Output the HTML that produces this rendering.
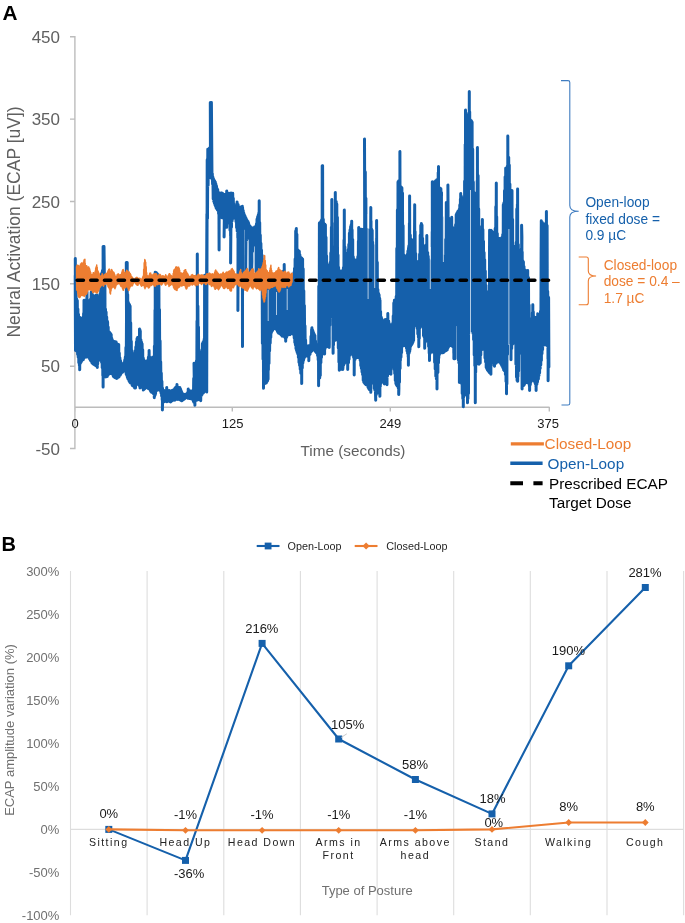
<!DOCTYPE html>
<html lang="en"><head><meta charset="utf-8"><title>Figure</title>
<style>html,body{margin:0;padding:0;background:#fff}svg{display:block}text{font-family:"Liberation Sans",sans-serif}</style></head><body>
<svg width="685" height="923" viewBox="0 0 685 923">
<rect width="685" height="923" fill="#fff"/>
<text x="2.5" y="20.4" font-size="20.8" font-weight="bold" fill="#000">A</text>
<path d="M74.9,36.1 V449.2 M74.2,407.2 H549.5 M75,407 v4.5 M232.3,407 v4.5 M390.3,407 v4.5 M549.3,407 v4.5 M70,36.8 H75 M70,119.1 H75 M70,201.5 H75 M70,283.8 H75 M70,366.2 H75 M70,448.5 H75 " stroke="#bcbcbc" stroke-width="1.4" fill="none"/>
<text x="60" y="42.9" font-size="17" fill="#606060" text-anchor="end">450</text>
<text x="60" y="125.2" font-size="17" fill="#606060" text-anchor="end">350</text>
<text x="60" y="207.6" font-size="17" fill="#606060" text-anchor="end">250</text>
<text x="60" y="289.9" font-size="17" fill="#606060" text-anchor="end">150</text>
<text x="60" y="372.3" font-size="17" fill="#606060" text-anchor="end">50</text>
<text x="60" y="454.6" font-size="17" fill="#606060" text-anchor="end">-50</text>
<text x="75" y="428.4" font-size="13" fill="#1a1a1a" text-anchor="middle">0</text>
<text x="232.6" y="428.4" font-size="13" fill="#1a1a1a" text-anchor="middle">125</text>
<text x="390.4" y="428.4" font-size="13" fill="#1a1a1a" text-anchor="middle">249</text>
<text x="548.1" y="428.4" font-size="13" fill="#1a1a1a" text-anchor="middle">375</text>
<text x="353" y="455.5" font-size="15.3" fill="#606060" text-anchor="middle">Time (seconds)</text>
<text transform="translate(19.5,222) rotate(-90)" font-size="17.5" fill="#606060" text-anchor="middle">Neural Activation (ECAP [uV])</text>
<path d="M75.2,275.5 L75.5,350.5 L75.3,258.6 L75.8,349.9 L76.1,292.8 L76.4,350.6 L76.7,299.1 L77.0,351.4 L77.3,300.5 L77.6,354.6 L77.9,308.9 L78.2,357.3 L78.5,314.2 L78.8,362.8 L79.1,316.9 L79.4,365.6 L79.7,317.3 L79.7,369.7 L80.0,318.2 L80.3,363.4 L80.6,318.2 L80.9,362.4 L81.2,318.7 L81.5,361.4 L81.8,318.1 L82.1,360.2 L82.4,318.1 L82.7,359.6 L83.0,317.5 L83.3,359.7 L83.6,313.4 L83.9,358.2 L84.0,300.3 L84.2,357.2 L84.5,301.5 L84.8,356.8 L85.1,300.2 L85.4,356.5 L85.7,300.5 L86.0,357.2 L86.3,300.9 L86.6,356.8 L86.9,300.3 L87.0,292.0 L87.2,356.7 L87.5,301.0 L87.8,356.9 L88.1,300.7 L88.4,357.1 L88.7,300.9 L89.0,357.8 L89.3,300.8 L89.6,359.0 L89.9,300.2 L90.2,360.0 L90.5,299.3 L90.8,360.9 L91.1,297.8 L91.2,292.0 L91.4,361.6 L91.7,293.8 L92.0,363.0 L92.3,294.3 L92.6,363.5 L92.9,295.2 L93.2,364.0 L93.5,295.7 L93.8,364.6 L94.1,296.4 L94.4,364.8 L94.7,296.1 L95.0,365.3 L95.3,296.1 L95.6,365.3 L95.9,295.3 L96.2,365.9 L96.5,304.4 L96.8,365.3 L97.1,307.8 L97.0,295.0 L97.3,367.4 L97.4,307.6 L97.7,363.9 L97.9,296.5 L98.0,360.4 L98.3,307.7 L98.6,359.8 L98.9,307.7 L99.2,360.3 L99.5,299.8 L99.8,359.3 L100.1,294.0 L100.4,359.8 L100.7,285.5 L101.0,359.9 L101.3,274.2 L101.6,362.6 L101.9,272.7 L102.2,367.8 L102.5,270.5 L102.8,375.6 L103.1,266.5 L103.1,387.1 L103.1,246.5 L103.4,377.6 L103.7,262.5 L104.0,376.8 L104.3,271.0 L104.0,246.5 L104.6,376.6 L104.9,280.0 L105.2,376.5 L105.5,309.1 L105.8,377.1 L106.1,312.1 L106.4,376.5 L106.7,316.9 L107.0,375.9 L107.3,320.9 L107.3,376.5 L107.6,321.8 L107.9,375.0 L108.2,327.0 L108.5,374.4 L108.8,331.7 L109.1,373.7 L109.4,332.1 L109.7,373.7 L110.0,333.7 L110.3,373.4 L110.6,333.5 L110.9,373.6 L111.2,334.6 L111.5,373.6 L111.8,338.2 L112.1,374.0 L112.4,340.1 L112.7,374.5 L113.0,341.7 L113.3,376.3 L113.6,342.3 L113.9,377.1 L114.2,342.0 L114.5,377.2 L114.8,341.5 L115.1,377.8 L115.4,342.4 L115.7,377.1 L116.0,343.0 L116.3,377.5 L116.1,342.0 L116.6,378.4 L116.9,343.4 L117.2,378.3 L117.5,343.9 L117.8,377.6 L118.1,344.4 L118.4,377.2 L118.7,344.5 L119.0,376.9 L119.3,352.9 L119.6,375.6 L119.9,357.8 L120.2,375.2 L120.5,360.6 L120.8,374.2 L121.1,362.5 L121.4,372.9 L121.7,363.5 L122.0,372.5 L122.3,363.9 L122.6,372.2 L122.9,364.0 L123.2,371.3 L123.5,364.0 L123.8,371.3 L124.1,362.7 L124.4,370.8 L124.7,360.0 L125.0,370.5 L125.3,357.0 L125.6,371.3 L125.9,347.6 L126.2,374.2 L126.5,319.0 L126.3,262.4 L126.8,375.5 L127.1,286.1 L127.2,262.4 L127.4,377.5 L127.7,294.5 L128.0,379.0 L128.3,302.2 L128.6,379.8 L128.9,303.7 L129.2,381.4 L129.5,304.6 L129.8,382.2 L130.1,305.9 L130.4,382.9 L130.7,322.8 L131.0,383.1 L131.3,341.3 L131.6,383.4 L131.9,350.5 L132.2,385.5 L132.5,353.9 L132.8,385.6 L133.1,354.2 L133.4,386.3 L133.7,354.3 L134.0,386.6 L134.3,353.5 L134.6,386.7 L134.9,353.3 L134.6,387.9 L135.2,350.9 L135.5,385.3 L135.5,387.9 L135.8,347.0 L136.1,384.7 L136.4,341.9 L136.7,384.3 L137.0,338.8 L137.3,383.6 L137.6,337.5 L137.9,384.3 L138.2,337.5 L138.5,384.8 L138.8,337.2 L139.1,385.4 L139.4,335.4 L139.7,385.6 L139.5,329.1 L140.0,386.3 L140.3,331.1 L140.0,387.9 L140.0,329.9 L140.6,387.0 L140.9,339.8 L141.2,387.2 L141.5,342.0 L141.8,387.2 L142.1,343.7 L142.4,387.2 L142.7,349.8 L143.0,388.3 L143.3,357.9 L143.3,390.1 L143.6,359.5 L143.9,389.4 L144.2,360.2 L144.5,388.9 L144.8,361.2 L145.1,388.5 L145.4,361.8 L145.7,387.8 L146.0,361.7 L146.3,387.3 L146.6,361.3 L146.9,387.5 L147.2,361.1 L147.5,387.8 L147.8,360.2 L148.1,388.5 L148.4,357.2 L148.7,388.2 L149.0,354.6 L149.3,388.7 L149.1,350.4 L149.6,389.2 L149.9,357.4 L150.2,390.4 L150.5,358.2 L150.8,391.4 L151.1,357.8 L151.4,392.3 L151.7,357.9 L152.0,392.6 L152.3,357.8 L152.6,392.7 L152.9,357.0 L153.2,393.5 L153.5,357.0 L153.8,393.9 L154.1,356.4 L154.3,397.7 L154.4,346.0 L154.7,395.9 L155.0,310.1 L155.3,394.8 L155.2,272.2 L155.6,393.6 L155.9,274.6 L156.2,391.1 L156.5,272.8 L156.8,390.5 L157.1,273.6 L157.4,389.8 L157.7,274.5 L158.0,389.6 L158.3,275.4 L158.6,389.7 L158.9,283.7 L159.2,389.8 L159.5,309.5 L159.8,390.6 L160.1,340.8 L160.4,390.5 L160.7,361.8 L161.0,393.1 L161.3,373.1 L161.6,396.1 L161.9,381.2 L162.2,400.0 L162.5,388.0 L162.4,409.9 L162.8,389.8 L163.1,401.5 L163.4,390.8 L163.7,401.0 L164.0,390.4 L164.3,401.7 L164.6,391.0 L164.9,401.4 L165.2,391.0 L165.5,400.9 L165.8,391.4 L166.1,401.0 L166.4,391.2 L166.7,401.8 L166.7,387.5 L167.0,401.7 L167.3,390.7 L167.6,401.3 L167.9,390.7 L168.2,400.9 L168.5,390.7 L168.8,401.2 L169.1,390.6 L169.4,401.3 L169.7,391.2 L170.0,401.8 L170.3,390.9 L170.6,401.9 L170.9,391.6 L171.2,401.5 L171.5,391.4 L171.8,400.7 L172.1,390.6 L172.4,400.6 L172.7,390.2 L173.0,399.9 L173.3,390.2 L173.6,400.1 L173.9,390.1 L174.2,400.1 L174.5,389.1 L174.8,400.3 L175.1,388.1 L175.4,399.6 L175.7,387.4 L176.0,399.3 L176.3,387.1 L176.6,399.3 L176.9,387.1 L177.0,384.5 L177.2,399.4 L177.5,387.0 L177.8,399.1 L178.1,387.4 L178.4,398.8 L178.7,387.6 L179.0,399.5 L179.3,387.7 L179.6,399.8 L179.9,387.6 L180.2,399.8 L180.5,388.9 L180.8,400.2 L181.1,390.4 L181.4,400.7 L181.7,392.0 L182.0,400.8 L182.3,393.2 L182.6,400.0 L182.9,393.7 L183.2,399.8 L183.5,394.2 L183.8,399.3 L184.1,394.7 L184.4,399.0 L184.7,394.5 L185.0,398.5 L185.3,394.3 L185.6,397.7 L185.9,394.7 L186.2,397.3 L186.5,394.6 L186.8,397.4 L187.1,393.5 L187.4,397.5 L187.7,392.5 L188.0,398.3 L188.3,391.7 L188.2,389.0 L188.6,398.3 L188.9,390.3 L189.2,398.4 L189.5,391.3 L189.8,398.6 L190.1,391.2 L190.4,398.3 L190.7,391.0 L191.0,398.5 L191.3,391.3 L191.6,399.1 L191.9,391.1 L192.2,399.0 L192.5,391.4 L192.8,399.7 L193.1,392.2 L193.4,401.4 L193.7,378.5 L194.0,402.4 L194.3,367.4 L194.0,363.3 L194.6,402.1 L194.9,365.3 L194.9,405.3 L195.2,365.2 L195.5,401.0 L195.8,364.9 L196.1,398.9 L196.4,361.0 L196.7,398.7 L197.0,321.0 L197.3,399.1 L197.3,254.0 L197.6,400.0 L197.9,306.0 L198.2,399.8 L198.5,327.1 L198.8,399.2 L199.1,352.3 L199.4,398.6 L199.7,352.9 L200.0,398.4 L200.3,352.4 L200.6,398.4 L200.9,352.2 L200.7,400.8 L201.2,352.0 L201.5,395.5 L201.8,350.1 L202.1,394.6 L202.4,343.7 L202.7,392.6 L203.0,342.6 L203.3,393.1 L203.6,341.5 L203.9,392.2 L204.2,339.0 L204.5,388.4 L204.6,275.3 L204.8,388.2 L205.1,317.4 L205.4,387.9 L205.7,316.2 L206.0,331.7 L206.3,316.9 L206.6,277.5 L206.9,214.1 L206.7,392.0 L207.2,159.7 L207.5,218.6 L207.8,149.2 L208.1,185.6 L208.4,149.4 L208.7,176.9 L209.0,148.5 L209.3,176.7 L209.6,148.0 L209.9,177.4 L210.2,148.0 L210.5,177.3 L210.3,102.6 L210.8,177.5 L211.1,146.9 L211.4,177.5 L211.7,163.1 L211.4,102.6 L212.0,179.2 L212.3,173.5 L212.6,184.3 L212.9,177.1 L213.2,199.0 L213.5,178.8 L213.8,201.5 L214.1,180.0 L214.4,203.2 L214.7,180.9 L215.0,205.0 L215.3,182.1 L215.6,206.4 L215.9,184.0 L216.2,208.2 L216.5,186.1 L216.8,208.8 L217.1,188.4 L217.4,210.1 L217.7,189.6 L218.0,210.7 L218.3,192.5 L218.6,213.7 L218.9,193.6 L219.1,250.1 L219.2,193.7 L219.5,217.7 L219.8,193.1 L220.1,216.9 L220.4,193.4 L220.7,216.9 L221.0,193.5 L221.3,217.4 L221.6,193.1 L221.9,217.8 L222.2,193.3 L222.5,217.3 L222.8,193.6 L223.1,217.8 L223.4,193.9 L223.7,218.4 L224.0,194.4 L224.3,220.9 L224.1,237.1 L224.6,194.8 L224.9,216.2 L225.2,194.4 L225.5,216.8 L225.8,194.9 L226.1,216.9 L226.4,194.7 L226.7,216.6 L226.7,227.3 L226.7,191.0 L227.0,216.7 L227.3,193.3 L227.6,220.2 L227.9,193.8 L228.2,222.5 L228.5,193.8 L228.8,222.5 L229.1,193.2 L229.4,223.5 L229.7,193.6 L230.0,230.2 L230.3,193.3 L230.6,236.2 L230.9,193.3 L230.6,263.1 L231.2,193.1 L231.5,227.2 L231.8,194.0 L232.1,221.1 L232.4,196.8 L232.7,217.6 L232.7,193.2 L233.0,217.7 L233.3,198.3 L233.6,218.2 L233.9,203.7 L234.2,217.8 L234.5,205.7 L234.8,217.5 L235.1,206.2 L235.4,218.1 L235.7,207.0 L236.0,221.8 L236.3,207.3 L236.6,227.8 L236.9,206.9 L237.1,201.9 L237.2,231.3 L237.5,206.0 L237.8,237.7 L238.1,204.6 L237.9,310.5 L238.4,206.2 L238.7,255.9 L239.0,207.5 L239.3,272.0 L239.6,207.9 L239.9,272.2 L240.2,207.8 L240.5,272.1 L240.8,207.0 L241.1,272.3 L241.4,206.9 L241.7,271.9 L242.0,207.1 L242.3,255.7 L242.3,206.2 L242.5,346.5 L242.6,207.8 L242.9,229.3 L243.2,210.5 L243.5,228.0 L243.8,213.0 L244.1,227.7 L244.4,214.8 L244.7,228.3 L245.0,216.1 L245.3,227.7 L245.6,217.4 L245.9,229.7 L245.7,271.7 L246.2,218.6 L246.5,240.5 L246.8,219.9 L247.1,238.6 L247.4,220.8 L247.7,238.3 L248.0,221.4 L248.3,237.7 L248.6,223.1 L248.9,237.3 L249.2,225.2 L249.5,237.9 L249.8,225.7 L250.1,243.4 L250.1,271.7 L250.4,226.7 L250.7,253.6 L251.0,227.2 L251.3,261.8 L251.6,228.0 L251.9,261.5 L251.6,271.7 L252.2,228.8 L252.5,251.4 L252.8,228.0 L253.1,243.7 L253.4,227.8 L253.7,244.3 L254.0,227.7 L254.3,244.4 L254.6,227.1 L254.9,244.8 L255.2,227.0 L255.5,245.7 L255.8,226.2 L256.1,250.4 L256.1,271.7 L256.4,224.0 L256.7,262.8 L257.0,219.3 L257.3,265.8 L257.6,217.1 L257.9,271.5 L258.2,215.3 L258.5,271.9 L258.8,212.9 L259.1,271.4 L259.2,200.8 L259.4,271.0 L259.7,222.4 L260.0,271.5 L260.3,235.0 L260.6,271.6 L260.9,243.3 L261.2,271.1 L261.5,250.0 L261.8,283.3 L262.1,255.2 L262.4,343.6 L262.7,259.5 L263.0,359.2 L263.3,268.5 L263.5,388.2 L263.6,272.8 L263.9,375.7 L264.2,276.3 L264.5,381.0 L264.8,279.2 L265.1,383.4 L265.4,280.2 L265.7,382.7 L266.0,280.1 L266.3,382.9 L266.6,285.3 L266.9,381.7 L267.2,313.6 L267.5,381.0 L267.8,324.5 L268.1,379.2 L267.8,280.0 L268.4,369.9 L268.7,324.1 L269.0,363.6 L269.3,324.6 L269.6,350.9 L269.9,325.0 L270.2,343.2 L270.5,324.5 L270.2,280.0 L270.8,337.5 L271.1,314.1 L271.4,332.8 L271.7,285.6 L272.0,331.2 L272.3,279.8 L272.6,330.4 L272.9,280.7 L273.2,329.2 L273.5,280.7 L273.8,328.2 L274.1,280.5 L274.4,328.1 L274.7,280.4 L275.0,328.4 L275.3,279.7 L275.6,328.9 L275.9,279.0 L276.2,328.8 L276.5,279.8 L276.8,329.9 L277.1,280.1 L277.4,331.5 L277.7,280.9 L278.0,332.6 L278.3,280.5 L278.6,333.2 L278.9,280.5 L279.2,333.4 L279.5,281.0 L279.8,333.6 L280.1,280.8 L280.4,334.1 L280.7,280.8 L281.0,335.0 L281.3,278.5 L281.6,335.3 L281.9,275.8 L282.2,336.2 L282.5,272.4 L282.8,335.8 L283.1,271.4 L283.4,336.0 L283.7,270.9 L284.0,336.4 L284.3,271.0 L284.2,264.5 L284.6,337.0 L284.9,274.3 L285.2,338.3 L285.5,278.7 L285.7,341.2 L285.8,318.1 L286.1,338.3 L286.4,329.2 L286.7,337.0 L287.0,329.6 L287.3,335.6 L287.6,330.7 L287.9,334.7 L288.1,280.0 L288.2,334.4 L288.5,330.9 L288.8,334.5 L289.1,327.8 L288.8,280.0 L289.4,334.5 L289.7,281.3 L290.0,334.8 L290.3,281.4 L290.6,334.1 L290.9,280.9 L291.2,333.3 L291.5,280.4 L291.8,332.7 L292.1,280.2 L292.4,333.2 L292.7,279.1 L293.0,334.2 L293.3,276.0 L293.6,334.4 L293.9,272.7 L294.2,338.0 L294.5,268.5 L294.8,342.4 L295.1,259.0 L295.4,345.1 L295.7,230.9 L296.0,348.7 L296.3,228.5 L296.6,350.7 L296.9,234.3 L297.2,352.5 L297.5,249.9 L297.8,354.1 L298.1,250.0 L298.4,357.4 L298.7,251.0 L299.0,362.4 L299.3,251.2 L299.6,365.6 L299.9,254.8 L300.2,369.3 L300.5,257.7 L300.8,373.2 L301.1,257.4 L301.4,371.8 L301.7,257.9 L301.7,383.4 L302.0,258.8 L302.3,367.9 L302.6,259.0 L302.9,363.1 L303.2,268.7 L303.5,360.5 L303.8,290.7 L304.1,358.6 L304.4,305.4 L304.7,357.0 L305.0,325.8 L305.3,356.3 L305.6,339.9 L305.9,356.1 L306.2,345.6 L306.5,356.0 L306.8,346.1 L307.1,356.1 L307.4,346.5 L307.7,356.0 L308.0,346.0 L308.3,356.8 L308.6,345.8 L308.9,356.6 L308.8,360.7 L309.2,345.8 L309.5,355.0 L309.8,346.5 L310.1,354.1 L310.4,345.0 L310.7,352.1 L311.0,336.4 L311.3,351.5 L311.6,329.6 L311.9,351.0 L311.9,327.7 L312.2,350.3 L312.5,329.8 L312.8,349.5 L313.1,331.2 L313.4,349.0 L313.7,333.0 L314.0,350.0 L314.3,334.3 L314.6,350.4 L314.9,335.4 L315.2,351.3 L315.5,340.9 L315.8,352.0 L316.1,344.2 L316.4,352.7 L316.7,344.8 L317.0,353.2 L317.3,344.8 L317.6,355.7 L317.9,344.7 L318.2,360.0 L318.5,344.6 L318.6,385.7 L318.8,286.2 L319.1,371.0 L319.4,223.0 L319.7,378.1 L320.0,222.7 L320.3,375.6 L320.6,222.0 L320.9,362.7 L321.2,220.8 L321.5,357.4 L321.8,219.4 L322.1,354.2 L322.2,165.8 L322.4,354.0 L322.7,218.6 L322.6,165.8 L323.0,353.5 L323.3,219.3 L323.6,352.8 L323.9,223.2 L324.2,352.0 L324.5,224.1 L324.6,354.0 L324.8,224.2 L325.1,348.7 L325.4,224.8 L325.7,327.4 L326.0,237.2 L326.3,326.1 L326.6,255.8 L326.9,326.1 L327.2,264.4 L327.5,325.4 L327.2,346.7 L327.8,264.7 L328.1,325.1 L328.4,265.2 L328.7,335.7 L329.0,265.7 L329.3,344.5 L329.2,347.5 L329.6,265.3 L329.9,325.3 L330.2,262.5 L330.5,314.5 L330.8,253.1 L331.1,315.0 L331.4,227.3 L331.7,314.9 L331.8,199.4 L332.0,314.3 L332.3,248.3 L332.6,317.1 L332.9,249.0 L333.1,353.2 L333.2,248.7 L333.5,345.0 L333.8,248.4 L334.1,340.6 L334.4,247.1 L334.7,335.4 L335.0,223.1 L335.3,329.5 L335.3,192.5 L335.5,340.2 L335.6,204.6 L335.9,329.6 L336.2,201.4 L336.5,329.0 L336.8,203.9 L337.1,329.7 L337.4,217.3 L337.7,329.9 L338.0,255.1 L338.3,347.9 L338.6,267.3 L338.9,362.2 L339.2,271.7 L339.5,367.3 L339.3,370.2 L339.8,271.1 L340.1,369.2 L340.4,271.4 L340.7,369.2 L341.0,271.0 L341.3,369.3 L341.6,271.2 L341.9,368.3 L342.2,271.2 L342.5,367.1 L342.8,270.5 L343.1,365.8 L342.8,369.4 L343.4,267.7 L343.7,365.0 L344.0,240.1 L344.3,363.7 L344.3,210.1 L344.6,362.8 L344.9,247.0 L345.2,362.5 L345.5,253.5 L345.8,362.2 L346.1,254.3 L346.4,362.2 L346.7,253.3 L347.0,361.7 L347.3,253.5 L347.6,362.0 L347.9,253.0 L347.7,369.4 L348.2,249.8 L348.5,362.7 L348.8,244.4 L349.1,359.3 L349.4,233.2 L349.7,355.6 L350.0,229.9 L350.3,354.6 L350.6,226.8 L350.9,354.2 L351.2,224.8 L351.5,353.6 L351.7,221.2 L351.8,353.9 L352.1,229.8 L352.4,354.1 L352.7,239.6 L353.0,355.5 L353.3,256.7 L353.6,357.6 L353.9,259.7 L354.2,366.4 L354.5,259.9 L354.2,375.1 L354.8,259.7 L355.1,359.4 L355.4,260.4 L355.7,357.8 L356.0,261.2 L356.3,357.2 L356.6,261.4 L356.9,357.5 L357.2,259.7 L357.5,357.4 L357.8,256.8 L358.1,357.3 L358.4,241.0 L358.7,357.7 L358.7,227.6 L359.0,357.4 L359.3,232.4 L359.6,358.2 L359.9,230.0 L360.2,360.6 L360.5,229.2 L360.8,365.8 L361.1,229.5 L361.4,368.4 L361.7,229.2 L362.0,372.1 L362.3,230.0 L362.6,374.7 L362.9,229.6 L363.2,380.2 L363.5,230.2 L363.8,382.3 L364.1,229.9 L364.4,382.7 L364.7,194.0 L364.5,138.9 L365.0,384.1 L365.3,171.9 L365.6,384.0 L365.9,198.3 L366.2,384.7 L366.5,229.9 L366.8,384.4 L367.1,229.8 L367.4,385.3 L367.7,229.8 L368.0,387.3 L368.3,230.2 L368.6,388.4 L368.9,230.3 L369.2,389.4 L369.5,230.5 L369.8,387.7 L370.1,230.6 L370.4,382.2 L370.7,227.4 L370.8,207.5 L370.8,392.2 L371.0,220.9 L371.3,381.3 L371.6,228.9 L371.9,381.6 L372.2,230.3 L372.5,382.7 L372.8,242.3 L373.1,382.9 L373.4,246.5 L373.7,383.8 L374.0,246.1 L374.3,388.5 L374.6,246.2 L374.9,390.2 L375.2,246.2 L375.5,393.0 L375.7,400.3 L375.8,246.3 L376.1,394.9 L376.4,238.6 L376.7,393.3 L376.6,220.4 L377.0,393.1 L377.3,262.3 L377.6,392.6 L377.9,289.6 L378.2,392.4 L378.5,293.2 L378.8,393.2 L379.1,294.8 L379.4,392.9 L379.7,298.3 L379.9,396.2 L380.0,300.3 L380.3,386.5 L380.6,311.4 L380.9,383.4 L381.2,317.1 L381.5,381.8 L381.8,318.4 L382.1,381.9 L382.4,320.0 L382.7,381.9 L383.0,321.2 L383.3,381.8 L383.6,320.9 L383.9,367.5 L384.2,320.7 L384.5,365.5 L384.4,384.0 L384.8,320.4 L385.1,365.9 L385.4,319.4 L385.7,366.1 L386.0,320.0 L386.3,366.6 L386.6,319.8 L386.9,368.8 L387.0,384.8 L387.2,319.6 L387.5,376.2 L387.8,319.5 L388.1,373.6 L387.8,313.4 L388.4,373.6 L388.7,320.9 L389.0,373.6 L389.3,323.4 L389.6,373.5 L389.9,324.7 L390.2,369.0 L390.5,324.9 L390.8,366.7 L391.1,325.2 L390.9,374.3 L391.4,325.0 L391.7,367.3 L392.0,324.7 L392.3,366.9 L392.6,323.6 L392.9,367.0 L393.2,316.0 L393.5,366.2 L393.8,302.9 L394.1,369.6 L394.4,300.3 L394.7,373.5 L395.0,300.7 L395.3,380.5 L395.6,299.7 L395.9,383.7 L396.2,296.4 L396.5,385.1 L396.8,248.5 L397.1,386.1 L397.4,210.1 L397.7,386.3 L398.0,182.0 L398.3,388.3 L398.6,181.0 L398.9,388.3 L398.7,394.6 L399.2,180.7 L399.5,382.2 L399.8,180.2 L400.1,368.5 L399.9,151.6 L400.4,360.6 L400.7,186.6 L401.0,357.3 L401.3,187.2 L401.6,352.7 L401.9,187.8 L402.2,346.7 L402.5,192.9 L402.8,345.1 L403.1,225.6 L403.4,345.0 L403.7,254.8 L404.0,345.4 L404.3,256.4 L404.6,345.4 L404.9,256.0 L405.2,345.5 L405.5,256.0 L405.8,345.8 L406.1,256.0 L406.4,347.9 L406.7,256.1 L407.0,351.0 L407.3,254.6 L407.6,353.5 L407.9,251.1 L408.2,356.9 L408.5,248.0 L408.4,365.3 L408.8,246.1 L409.1,353.3 L409.4,223.2 L409.7,351.4 L409.6,196.0 L410.0,349.7 L410.3,234.9 L410.6,346.6 L410.9,239.0 L411.2,345.3 L411.5,240.3 L411.8,344.6 L412.1,240.1 L412.4,343.6 L412.7,240.0 L413.0,342.0 L413.3,240.3 L413.6,340.6 L413.9,240.2 L414.2,326.4 L414.5,235.6 L414.7,204.8 L414.8,325.0 L415.1,231.5 L415.4,325.2 L415.7,253.6 L416.0,325.0 L416.3,261.3 L416.6,324.8 L416.9,262.0 L417.2,328.5 L417.5,261.7 L417.8,334.0 L418.1,262.0 L418.4,337.3 L418.7,263.0 L418.8,346.7 L419.0,262.9 L419.3,338.4 L419.6,254.3 L419.9,327.9 L420.2,235.3 L420.5,324.4 L420.8,225.4 L421.1,325.2 L421.4,223.6 L421.7,324.9 L422.0,224.9 L422.3,325.2 L422.6,238.2 L422.9,327.2 L423.2,245.1 L423.5,335.7 L423.8,246.6 L424.1,336.9 L424.4,247.3 L424.7,339.1 L424.7,348.3 L425.0,247.2 L425.3,342.2 L425.6,246.8 L425.9,340.5 L426.2,244.9 L426.5,340.6 L426.8,244.8 L427.1,340.4 L426.8,235.4 L427.4,340.4 L427.7,252.4 L428.0,340.2 L428.3,256.2 L428.6,346.6 L428.9,259.4 L429.2,353.2 L429.5,261.2 L429.5,360.5 L429.8,262.1 L430.1,353.6 L430.4,262.3 L430.7,351.8 L431.0,261.7 L431.3,351.3 L431.6,261.6 L431.9,352.0 L432.2,231.7 L432.5,351.9 L432.3,181.8 L432.8,351.5 L433.1,184.1 L433.4,351.2 L433.7,182.9 L434.0,352.3 L434.3,182.4 L434.6,362.2 L434.9,181.7 L435.2,369.0 L435.5,181.0 L435.8,376.3 L436.1,180.7 L436.4,378.7 L436.7,179.8 L437.0,379.9 L437.3,179.9 L437.0,388.9 L437.6,179.5 L437.9,372.4 L438.2,172.6 L438.5,362.8 L438.5,166.6 L438.8,358.0 L439.1,187.5 L439.4,354.8 L439.7,188.2 L440.0,352.8 L440.3,188.4 L440.6,351.8 L440.9,188.7 L441.2,352.5 L441.5,192.4 L441.8,352.7 L442.1,217.5 L442.4,352.7 L442.7,255.4 L443.0,352.8 L443.3,257.9 L443.6,352.6 L443.9,257.5 L444.2,351.9 L444.5,257.1 L444.8,350.9 L445.1,256.9 L445.4,350.7 L445.7,239.6 L446.0,350.8 L446.3,202.4 L446.6,350.2 L446.9,202.4 L447.2,350.0 L447.5,201.8 L447.8,348.3 L448.1,210.8 L447.9,185.0 L448.4,347.2 L448.7,218.1 L449.0,346.2 L449.3,219.3 L449.6,345.6 L449.9,219.6 L450.2,345.1 L450.5,219.3 L450.8,345.4 L451.1,222.1 L451.4,345.6 L451.7,224.5 L451.7,217.2 L452.0,345.2 L452.3,226.8 L452.6,346.5 L452.9,227.9 L453.2,347.0 L453.5,228.6 L453.8,353.3 L454.1,228.3 L453.9,358.8 L454.4,228.4 L454.7,324.6 L454.9,358.8 L455.0,228.3 L455.3,313.8 L455.6,224.8 L455.9,313.8 L456.2,214.8 L456.5,314.4 L456.8,213.6 L457.1,314.3 L457.4,212.4 L457.7,325.2 L458.0,211.3 L458.3,359.7 L458.6,210.8 L458.9,363.1 L459.2,209.3 L459.5,367.0 L459.4,382.4 L459.8,205.1 L460.1,372.4 L460.4,199.0 L460.7,377.0 L460.7,193.4 L461.0,382.0 L461.3,195.9 L461.6,383.8 L461.9,198.1 L462.2,393.4 L462.5,198.4 L462.8,398.4 L463.1,198.6 L463.3,406.8 L463.4,198.0 L463.7,397.0 L464.0,197.6 L464.3,393.4 L464.6,181.2 L464.9,393.8 L465.2,144.2 L465.5,394.2 L465.5,110.0 L465.8,394.3 L466.1,113.1 L466.4,394.9 L466.7,115.2 L467.0,395.3 L467.3,115.6 L467.5,402.7 L467.6,115.0 L467.9,398.8 L468.2,115.1 L468.5,393.5 L468.8,114.8 L469.1,333.1 L469.3,91.6 L469.4,330.2 L469.7,111.8 L470.0,329.6 L470.3,119.8 L470.6,329.7 L470.9,120.3 L471.2,330.8 L471.5,121.0 L471.8,330.8 L472.1,122.1 L472.4,331.3 L472.7,149.2 L473.0,333.2 L473.3,182.0 L473.6,339.8 L473.9,192.3 L474.2,355.0 L474.5,193.3 L474.8,365.8 L475.1,194.1 L475.3,402.7 L475.4,193.7 L475.7,372.3 L476.0,193.4 L476.3,364.6 L476.6,192.8 L476.9,362.5 L477.2,180.7 L477.5,362.8 L477.4,147.6 L477.8,363.6 L478.1,175.6 L478.4,363.5 L478.7,209.0 L479.0,364.3 L479.3,226.3 L479.6,363.5 L479.9,234.2 L480.2,363.1 L480.5,234.4 L480.8,355.1 L481.1,234.7 L481.4,350.0 L481.7,234.7 L482.0,348.6 L482.3,234.7 L482.4,219.6 L482.6,348.9 L482.9,229.4 L483.2,349.3 L483.5,241.3 L483.8,349.6 L484.1,252.6 L484.4,349.8 L484.7,259.8 L485.0,358.0 L485.3,271.1 L485.6,362.1 L485.9,285.3 L486.2,367.6 L486.5,291.3 L486.8,368.7 L487.1,291.8 L487.4,370.0 L487.7,292.6 L488.0,370.8 L488.3,293.2 L488.6,371.5 L488.9,292.1 L489.2,372.5 L489.5,255.8 L489.6,230.3 L489.8,372.8 L490.1,231.3 L490.4,373.4 L490.7,230.6 L490.9,374.3 L491.0,230.3 L491.3,365.8 L491.6,230.8 L491.9,362.7 L492.2,231.8 L492.5,361.4 L492.8,232.5 L493.1,360.6 L493.4,232.4 L493.7,360.5 L494.0,232.3 L494.3,360.4 L494.5,366.2 L494.6,231.8 L494.9,361.2 L495.2,228.6 L495.5,363.1 L495.8,206.7 L496.1,363.3 L496.3,183.1 L496.4,362.7 L496.7,216.7 L497.0,361.8 L497.3,233.4 L497.6,362.0 L497.9,238.2 L498.2,361.6 L498.5,238.3 L498.8,361.7 L499.1,238.6 L499.4,361.7 L499.7,238.9 L500.0,362.5 L500.3,238.8 L500.6,363.4 L500.9,238.4 L501.2,364.6 L501.5,238.1 L501.8,365.5 L502.1,237.6 L502.4,366.8 L502.7,234.5 L503.0,367.9 L503.3,204.7 L503.6,369.7 L503.9,202.8 L504.2,370.5 L504.5,190.7 L504.8,371.1 L505.1,176.8 L505.4,374.5 L505.7,168.2 L506.0,381.6 L506.3,168.6 L506.5,393.8 L506.6,167.7 L506.9,383.9 L507.2,166.5 L507.5,354.6 L507.8,150.4 L508.1,343.2 L507.8,136.0 L508.4,342.8 L508.7,157.3 L509.0,342.7 L509.3,164.9 L509.6,342.7 L509.9,184.1 L510.2,342.4 L510.5,190.5 L510.8,343.1 L511.1,191.1 L511.0,359.7 L511.4,191.3 L511.7,348.4 L512.0,190.6 L512.3,344.5 L512.6,219.5 L512.9,343.7 L513.2,245.9 L513.5,343.1 L513.8,246.2 L514.1,342.8 L514.4,246.7 L514.7,342.9 L515.0,247.4 L515.3,342.4 L515.6,247.2 L515.9,364.2 L516.2,242.6 L516.5,377.0 L516.8,209.1 L517.1,380.5 L517.4,204.3 L517.7,381.2 L517.6,189.0 L518.0,376.5 L518.3,244.4 L518.6,371.0 L518.9,251.4 L519.2,353.5 L519.5,251.9 L519.8,353.4 L520.1,251.9 L520.4,352.7 L520.7,251.7 L521.0,353.6 L521.3,249.0 L521.6,353.2 L521.9,236.7 L521.6,225.3 L522.1,388.9 L522.2,251.9 L522.5,368.3 L522.8,260.7 L523.1,383.5 L523.4,261.7 L523.7,385.5 L524.0,266.6 L524.3,384.8 L524.6,269.7 L524.9,383.4 L525.2,269.9 L525.5,382.7 L525.8,270.5 L526.1,381.6 L526.4,271.0 L526.7,381.9 L527.0,271.3 L527.3,382.7 L527.6,271.7 L527.9,383.1 L527.7,270.5 L528.2,382.6 L528.5,277.4 L528.8,382.8 L529.1,305.1 L529.4,386.2 L529.7,319.3 L529.6,390.5 L530.0,319.4 L530.3,384.7 L530.6,318.8 L530.9,382.2 L531.2,319.2 L531.5,381.0 L531.8,318.7 L532.1,379.9 L532.4,312.8 L532.7,380.1 L532.8,304.7 L533.0,380.1 L533.3,311.8 L533.6,380.4 L533.9,316.6 L534.2,381.0 L534.5,317.1 L534.8,382.4 L535.1,317.2 L535.4,384.1 L535.7,317.4 L536.0,386.9 L536.3,317.3 L536.1,390.5 L536.6,317.3 L536.9,384.2 L537.2,318.3 L537.5,382.1 L537.7,313.7 L537.8,380.0 L538.1,319.3 L538.4,378.9 L538.7,319.3 L539.0,375.6 L539.3,319.2 L539.6,372.9 L539.9,319.4 L540.2,368.4 L540.5,311.3 L540.8,365.1 L541.1,259.7 L541.3,220.8 L541.4,360.5 L541.7,226.2 L542.0,353.8 L542.3,222.5 L542.6,349.8 L542.9,224.2 L543.2,345.6 L543.5,224.3 L543.8,345.0 L544.1,224.3 L544.4,328.8 L544.7,224.3 L545.0,328.7 L545.3,224.4 L545.2,345.0 L545.6,223.5 L545.9,328.6 L546.2,223.3 L546.5,328.5 L546.4,211.4 L546.8,328.3 L547.1,225.4 L547.4,345.9 L547.7,291.2 L548.0,358.9 L548.3,296.8 L548.1,380.8 L548.6,297.4 L548.9,367.1" fill="none" stroke="#1560ab" stroke-width="3" stroke-linejoin="round" stroke-linecap="round"/>
<path d="M76.5,266.7 L76.7,290.0 L77.0,265.3 L77.2,290.4 L77.5,265.3 L77.7,293.3 L78.0,265.7 L78.2,296.1 L78.5,265.6 L78.7,297.1 L79.0,266.4 L79.2,297.4 L79.5,266.8 L79.7,297.6 L80.0,265.8 L80.2,297.1 L80.5,264.1 L80.7,295.9 L81.0,263.7 L81.2,295.2 L81.5,262.9 L81.7,295.1 L82.0,262.9 L82.2,295.4 L82.5,263.8 L82.7,295.5 L83.0,263.5 L83.2,295.0 L83.5,262.1 L83.7,295.7 L84.0,259.9 L84.2,296.4 L84.5,260.0 L84.7,295.4 L84.9,259.2 L85.0,295.1 L85.2,263.3 L85.5,294.5 L85.7,265.5 L86.0,294.4 L86.2,266.1 L86.5,294.0 L86.7,265.8 L87.0,293.3 L87.2,267.1 L87.5,291.8 L87.7,267.6 L88.0,290.6 L88.2,267.1 L88.5,288.9 L88.7,267.0 L89.0,289.3 L89.2,267.9 L89.5,289.2 L89.7,269.1 L90.0,289.9 L90.2,270.9 L90.5,290.1 L90.7,272.5 L91.0,290.0 L91.2,274.3 L91.5,290.2 L91.7,275.0 L92.0,290.5 L92.2,275.3 L92.5,291.8 L92.7,274.3 L93.0,292.8 L93.2,272.8 L93.5,292.5 L93.7,272.8 L94.0,291.8 L94.2,274.6 L94.5,291.2 L94.7,274.2 L95.0,291.7 L95.2,271.1 L95.5,291.6 L95.7,268.1 L96.0,292.4 L96.2,266.7 L96.5,292.9 L96.7,264.9 L97.0,292.8 L97.2,267.3 L97.5,292.8 L97.7,270.4 L98.0,291.7 L98.2,271.5 L98.5,290.8 L98.7,272.8 L99.0,289.7 L99.2,273.8 L99.5,287.9 L99.7,276.1 L100.0,287.6 L100.2,277.4 L100.5,286.4 L100.7,276.8 L101.0,286.0 L101.2,275.5 L101.5,285.5 L101.7,275.2 L102.0,284.8 L102.2,273.7 L102.5,285.0 L102.7,274.4 L103.0,285.3 L103.2,275.7 L103.5,286.2 L103.7,277.4 L104.0,285.0 L104.2,275.9 L104.5,283.8 L104.7,274.5 L105.0,283.5 L105.2,274.1 L105.5,284.2 L105.7,273.9 L106.0,283.7 L106.2,273.6 L106.5,283.8 L106.7,273.3 L107.0,283.1 L107.2,273.6 L107.5,284.9 L107.7,271.8 L108.0,286.4 L108.2,270.4 L108.5,287.4 L108.7,269.6 L109.0,288.0 L109.2,269.1 L109.5,289.2 L109.7,269.5 L110.0,292.9 L110.2,271.0 L110.5,293.9 L110.7,271.6 L111.0,291.0 L111.2,270.9 L111.5,288.8 L111.7,269.4 L112.0,287.7 L112.2,270.5 L112.5,286.9 L112.7,271.5 L113.0,286.1 L113.2,272.2 L113.5,287.1 L113.7,272.3 L114.0,287.3 L114.2,273.1 L114.5,288.1 L114.7,274.6 L115.0,288.8 L115.2,276.4 L115.5,287.6 L115.7,276.3 L116.0,286.0 L116.2,276.5 L116.5,284.8 L116.7,276.0 L117.0,284.4 L117.2,274.6 L117.5,283.9 L117.7,274.2 L118.0,283.4 L118.2,273.8 L118.5,283.7 L118.7,274.3 L119.0,283.4 L119.2,274.9 L119.5,283.1 L119.7,275.1 L120.0,284.4 L120.2,274.8 L120.5,285.6 L120.7,274.9 L121.0,286.4 L121.2,274.3 L121.5,286.5 L121.7,272.7 L122.0,287.0 L122.2,271.0 L122.5,288.4 L122.7,269.7 L123.0,290.1 L123.2,269.5 L123.5,290.2 L123.7,270.7 L124.0,288.6 L124.2,272.8 L124.5,287.3 L124.7,272.8 L125.0,287.6 L125.2,273.7 L125.5,287.7 L125.7,272.9 L126.0,287.1 L126.2,271.4 L126.5,285.8 L126.7,270.2 L127.0,286.2 L127.2,270.7 L127.5,287.2 L127.7,271.9 L128.0,288.6 L128.2,271.9 L128.5,290.4 L128.7,271.9 L129.0,290.3 L129.2,272.1 L129.5,288.6 L129.7,273.5 L130.0,287.3 L130.2,273.5 L130.5,286.4 L130.7,274.6 L131.0,285.9 L131.2,276.1 L131.5,285.7 L131.7,276.6 L132.0,285.5 L132.2,277.3 L132.5,285.7 L132.7,277.8 L133.0,284.2 L133.2,278.5 L133.5,283.1 L133.7,279.2 L134.0,282.0 L134.2,279.8 L134.5,282.2 L134.7,279.5 L135.0,282.3 L135.2,278.3 L135.5,283.8 L135.7,278.1 L136.0,283.9 L136.2,277.5 L136.5,284.5 L136.7,277.6 L137.0,285.1 L137.2,277.5 L137.5,285.2 L137.7,278.0 L138.0,285.3 L138.2,278.4 L138.5,283.9 L138.7,278.5 L139.0,282.8 L139.2,278.2 L139.5,282.7 L139.7,278.6 L140.0,283.6 L140.2,278.5 L140.5,284.6 L140.7,279.1 L141.0,285.4 L141.2,279.7 L141.5,286.3 L141.7,279.7 L142.0,285.5 L142.2,278.2 L142.5,285.5 L142.7,276.9 L143.0,285.6 L143.2,275.9 L143.5,285.3 L143.7,269.3 L144.0,285.5 L144.2,262.7 L144.5,287.6 L144.7,260.8 L144.8,259.5 L145.0,288.7 L145.2,260.4 L145.5,287.2 L145.7,262.3 L146.0,286.5 L146.2,266.7 L146.5,286.5 L146.7,272.8 L147.0,286.5 L147.2,275.4 L147.5,286.6 L147.7,275.8 L148.0,286.9 L148.2,276.5 L148.5,288.0 L148.7,276.9 L149.0,287.8 L149.2,275.1 L149.5,287.2 L149.7,273.3 L150.0,286.3 L150.2,273.2 L150.5,285.0 L150.7,273.1 L151.0,284.8 L151.2,274.5 L151.5,285.5 L151.7,275.7 L152.0,285.1 L152.2,276.3 L152.5,284.0 L152.7,275.0 L153.0,283.6 L153.2,274.2 L153.5,284.5 L153.7,274.1 L154.0,285.5 L154.2,274.2 L154.5,286.1 L154.7,273.7 L155.0,286.3 L155.2,273.7 L155.5,286.1 L155.7,273.8 L156.0,284.8 L156.2,273.8 L156.5,284.2 L156.7,274.2 L157.0,284.6 L157.2,275.7 L157.5,284.8 L157.7,277.1 L158.0,283.8 L158.2,276.0 L158.5,283.9 L158.7,275.0 L159.0,283.5 L159.2,274.5 L159.5,284.0 L159.7,274.4 L160.0,283.9 L160.2,274.6 L160.5,284.1 L160.7,275.3 L161.0,284.5 L161.2,276.4 L161.5,284.9 L161.7,276.2 L162.0,284.1 L162.2,276.6 L162.5,284.0 L162.7,275.8 L163.0,282.7 L163.2,275.9 L163.5,282.5 L163.7,276.1 L164.0,282.5 L164.2,277.3 L164.5,282.8 L164.7,277.7 L165.0,284.2 L165.2,276.0 L165.5,285.2 L165.7,274.7 L166.0,285.1 L166.2,275.8 L166.5,283.7 L166.7,277.7 L167.0,283.5 L167.2,278.2 L167.5,283.7 L167.7,276.8 L168.0,283.9 L168.2,275.5 L168.5,284.8 L168.7,274.8 L169.0,286.4 L169.2,273.7 L169.5,285.8 L169.7,273.7 L170.0,285.5 L170.2,274.8 L170.5,285.2 L170.7,275.7 L171.0,284.7 L171.2,275.6 L171.5,284.5 L171.7,276.1 L172.0,283.8 L172.2,276.4 L172.5,284.1 L172.7,276.2 L173.0,285.4 L173.2,273.4 L173.5,287.2 L173.7,270.8 L174.0,288.3 L174.2,269.5 L174.5,289.0 L174.7,269.8 L175.0,289.5 L175.2,268.8 L175.5,289.3 L175.7,267.3 L176.0,290.1 L176.2,266.8 L176.5,290.2 L176.7,267.6 L177.0,290.4 L177.2,267.7 L177.5,288.7 L177.7,267.3 L178.0,288.0 L178.2,267.2 L178.5,287.5 L178.7,267.3 L179.0,287.2 L179.2,268.5 L179.5,287.0 L179.7,270.2 L180.0,285.9 L180.2,272.5 L180.5,284.7 L180.7,273.0 L181.0,285.7 L181.2,273.4 L181.5,285.9 L181.7,273.1 L182.0,285.9 L182.2,273.3 L182.5,285.6 L182.7,274.5 L183.0,285.2 L183.2,273.8 L183.5,285.2 L183.7,272.6 L184.0,285.0 L184.2,270.4 L184.5,285.6 L184.7,270.5 L185.0,285.6 L185.2,269.8 L185.5,287.2 L185.7,269.8 L186.0,288.7 L186.2,271.5 L186.5,288.9 L186.7,272.3 L187.0,288.2 L187.2,273.3 L187.5,286.7 L187.7,273.8 L188.0,286.4 L188.2,274.8 L188.5,285.1 L188.7,276.0 L189.0,285.5 L189.2,276.5 L189.5,285.9 L189.7,276.6 L190.0,285.5 L190.2,276.9 L190.5,283.9 L190.7,276.5 L191.0,283.2 L191.2,275.3 L191.5,284.1 L191.7,275.4 L192.0,284.9 L192.2,274.4 L192.5,285.1 L192.7,274.8 L193.0,284.5 L193.2,275.4 L193.5,284.0 L193.7,276.0 L194.0,283.9 L194.2,275.8 L194.5,284.2 L194.7,275.7 L195.0,285.0 L195.2,275.6 L195.5,285.7 L195.7,275.3 L196.0,285.0 L196.2,276.1 L196.5,284.4 L196.7,277.1 L197.0,284.5 L197.2,276.2 L197.5,284.9 L197.7,275.0 L198.0,285.0 L198.2,274.3 L198.5,283.4 L198.7,275.4 L199.0,282.1 L199.2,275.2 L199.5,282.9 L199.7,275.1 L200.0,282.5 L200.2,275.6 L200.5,283.2 L200.7,275.5 L201.0,283.7 L201.2,275.1 L201.5,284.4 L201.7,275.0 L202.0,283.9 L202.2,275.4 L202.5,283.6 L202.7,275.1 L203.0,282.9 L203.2,275.5 L203.5,282.9 L203.7,276.0 L204.0,281.9 L204.2,276.1 L204.5,281.8 L204.7,275.8 L205.0,283.1 L205.2,275.6 L205.5,284.2 L205.7,275.4 L206.0,284.6 L206.2,275.1 L206.5,284.0 L206.7,274.1 L207.0,283.3 L207.2,273.9 L207.5,282.5 L207.7,273.7 L208.0,282.6 L208.2,274.1 L208.5,283.3 L208.7,274.0 L209.0,284.4 L209.2,273.2 L209.5,284.5 L209.7,273.3 L210.0,284.1 L210.2,273.8 L210.5,283.8 L210.7,274.0 L211.0,285.4 L211.2,274.0 L211.5,286.5 L211.7,274.5 L212.0,286.2 L212.2,274.6 L212.5,285.2 L212.7,273.7 L213.0,285.3 L213.2,274.0 L213.5,285.8 L213.7,274.5 L214.0,286.8 L214.2,274.2 L214.5,287.9 L214.7,272.3 L215.0,289.3 L215.2,270.8 L215.5,289.3 L215.7,270.1 L216.0,288.6 L216.2,270.9 L216.5,288.0 L216.7,271.2 L217.0,288.0 L217.2,272.2 L217.5,288.1 L217.7,273.0 L218.0,288.9 L218.2,273.3 L218.5,289.7 L218.7,274.4 L219.0,289.0 L219.2,274.6 L219.5,288.2 L219.7,274.5 L220.0,287.5 L220.2,274.5 L220.5,286.2 L220.7,274.1 L221.0,285.1 L221.2,274.7 L221.5,285.5 L221.7,274.1 L222.0,285.0 L222.2,274.1 L222.5,286.5 L222.7,273.0 L223.0,287.3 L223.2,272.3 L223.5,288.3 L223.7,273.3 L224.0,288.6 L224.2,273.6 L224.5,288.5 L224.7,274.6 L225.0,288.0 L225.2,273.9 L225.5,287.1 L225.7,273.0 L226.0,286.9 L226.2,272.3 L226.5,286.6 L226.7,272.0 L227.0,287.0 L227.2,272.2 L227.5,288.5 L227.7,272.0 L228.0,288.4 L228.2,271.8 L228.5,288.3 L228.7,271.6 L229.0,288.2 L229.2,271.1 L229.5,289.0 L229.7,270.9 L230.0,290.4 L230.2,271.2 L230.5,290.6 L230.7,270.7 L231.0,291.2 L231.2,269.3 L231.5,290.5 L231.7,269.6 L232.0,287.9 L232.2,268.4 L232.5,286.6 L232.7,269.7 L233.0,287.0 L233.2,269.9 L233.5,287.8 L233.7,271.0 L234.0,286.4 L234.2,271.8 L234.5,285.3 L234.7,273.6 L235.0,284.9 L235.2,274.0 L235.5,284.4 L235.7,274.4 L236.0,284.0 L236.2,274.0 L236.5,283.9 L236.7,274.2 L237.0,283.7 L237.2,274.3 L237.5,284.0 L237.7,274.5 L238.0,284.7 L238.2,274.9 L238.5,285.5 L238.7,274.7 L239.0,285.9 L239.2,273.8 L239.5,286.2 L239.7,272.0 L240.0,284.9 L240.2,270.7 L240.5,284.5 L240.7,269.4 L241.0,286.3 L241.2,272.4 L241.5,287.0 L241.7,275.2 L242.0,287.6 L242.2,274.6 L242.5,287.8 L242.7,273.9 L243.0,288.1 L243.2,273.1 L243.5,288.0 L243.7,272.5 L244.0,288.3 L244.2,271.8 L244.5,289.1 L244.7,271.6 L245.0,290.2 L245.2,271.2 L245.5,290.1 L245.7,270.4 L246.0,289.8 L246.2,269.8 L246.5,290.8 L246.7,268.9 L247.0,290.9 L247.2,268.5 L247.5,290.9 L247.7,269.4 L248.0,289.6 L248.2,271.3 L248.5,288.8 L248.7,271.9 L249.0,287.6 L249.2,272.7 L249.5,286.2 L249.7,273.0 L250.0,285.9 L250.2,272.0 L250.5,286.1 L250.7,271.2 L251.0,286.2 L251.2,270.4 L251.5,287.5 L251.7,269.5 L252.0,288.0 L252.2,269.0 L252.5,288.0 L252.7,269.0 L253.0,288.9 L253.2,269.0 L253.5,287.3 L253.7,270.8 L254.0,286.4 L254.2,273.1 L254.5,286.5 L254.7,273.3 L255.0,286.9 L255.2,273.2 L255.5,286.9 L255.7,273.1 L256.0,288.0 L256.2,272.8 L256.5,288.8 L256.7,272.3 L257.0,288.2 L257.2,271.7 L257.5,288.1 L257.7,271.5 L258.0,288.6 L258.2,270.5 L258.5,289.1 L258.7,268.8 L259.0,288.9 L259.2,268.9 L259.5,289.6 L259.7,269.9 L260.0,290.5 L260.2,270.7 L260.5,289.3 L260.7,269.3 L261.0,288.2 L261.2,268.4 L261.5,289.0 L261.7,268.1 L262.0,291.1 L262.2,266.5 L262.5,294.9 L262.7,264.9 L263.0,297.9 L263.2,262.7 L263.5,300.1 L263.7,259.8 L264.0,301.9 L264.2,255.5 L264.5,301.7 L264.7,255.7 L264.6,300.9 L264.6,256.5 L265.0,299.0 L265.2,260.6 L265.5,296.8 L265.7,265.0 L266.0,292.9 L266.2,269.5 L266.5,289.0 L266.7,270.8 L267.0,288.4 L267.2,270.7 L267.5,287.6 L267.7,272.1 L268.0,286.4 L268.2,273.4 L268.5,288.0 L268.7,272.7 L269.0,289.0 L269.2,272.7 L269.5,288.4 L269.7,270.6 L270.0,288.2 L270.2,268.1 L270.5,287.4 L270.7,267.2 L270.9,265.3 L271.0,287.5 L271.2,268.5 L271.5,287.3 L271.7,270.5 L272.0,287.2 L272.2,272.5 L272.5,287.2 L272.7,273.9 L273.0,286.5 L273.2,273.7 L273.5,286.5 L273.7,273.1 L274.0,286.4 L274.2,273.1 L274.5,285.9 L274.7,272.7 L275.0,285.5 L275.2,273.0 L275.5,285.8 L275.7,271.8 L276.0,285.9 L276.2,271.1 L276.5,287.3 L276.7,271.0 L277.0,288.4 L277.2,271.4 L277.5,289.0 L277.7,270.1 L278.0,290.4 L278.2,268.3 L278.5,291.2 L278.7,267.4 L279.0,292.1 L279.2,269.2 L279.5,291.7 L279.7,270.1 L280.0,290.7 L280.2,270.0 L280.5,289.2 L280.7,270.5 L281.0,287.5 L281.2,271.1 L281.5,286.6 L281.7,271.0 L282.0,286.4 L282.2,271.7 L282.5,287.0 L282.7,272.7 L283.0,287.6 L283.2,273.0 L283.5,287.0 L283.7,272.4 L284.0,286.0 L284.2,271.5 L284.5,286.9 L284.7,271.4 L285.0,287.3 L285.2,271.6 L285.5,287.3 L285.7,272.1 L286.0,285.9 L286.2,272.9 L286.5,285.5 L286.7,274.0 L287.0,285.1 L287.2,273.3 L287.5,284.8 L287.7,272.3 L288.0,285.8 L288.2,272.5 L288.5,286.7 L288.7,272.1 L289.0,286.7 L289.2,273.0 L289.5,286.0 L289.7,274.5 L290.0,285.5 L290.2,275.3 L290.5,285.5 L290.7,274.6 L291.0,285.2 L291.2,273.2 L291.5,283.1 L291.7,273.5 L292.0,282.0 L292.2,273.5" fill="none" stroke="#ed7d31" stroke-width="1.5" stroke-linejoin="round" stroke-linecap="round"/>
<path d="M443.4,196 V262 M268.2,290 V321 M276.5,292 V315 M287.2,289 V310 M470.5,190 V335 M508.9,229 V345 M368.1,214 V299 M374.7,229 V288 M430.3,247 V289 " stroke="#fff" stroke-width="0.8" stroke-opacity="0.85" fill="none"/>
<path d="M77.1,280.3 H549" stroke="#000" stroke-width="3.6" stroke-dasharray="6.3 7.38" stroke-linecap="round" fill="none"/>
<path d="M561,80.6 H568 Q569.8,80.6 569.8,82.5 V205.5 Q569.8,211.3 578.7,211.3 Q569.8,211.3 569.8,217 V403.2 Q569.8,405 568,405 H561.5" fill="none" stroke="#3f7cc0" stroke-width="1.1"/>
<path d="M578.7,257 H586.3 Q588.3,257 588.3,259 V271 Q588.3,276 596.1,276 Q588.3,276 588.3,281 V302.7 Q588.3,304.7 586.3,304.7 H578.7" fill="none" stroke="#ed7d31" stroke-width="1.1"/>
<text x="585.4" y="207.0" font-size="13.75" fill="#1560ab">Open-loop</text>
<text x="585.4" y="223.5" font-size="13.75" fill="#1560ab">fixed dose =</text>
<text x="585.4" y="240.0" font-size="13.75" fill="#1560ab">0.9 µC</text>
<text x="603.7" y="270.0" font-size="13.75" fill="#ed7d31">Closed-loop</text>
<text x="603.7" y="286.4" font-size="13.75" fill="#ed7d31">dose = 0.4 –</text>
<text x="603.7" y="302.8" font-size="13.75" fill="#ed7d31">1.7 µC</text>
<path d="M510.8,443.9 H543.9" stroke="#ed7d31" stroke-width="3.4"/>
<text x="544.6" y="448.9" font-size="15.3" fill="#ed7d31">Closed-Loop</text>
<path d="M510.3,463.3 H542.6" stroke="#1560ab" stroke-width="3.4"/>
<text x="547.6" y="468.9" font-size="15.3" fill="#1560ab">Open-Loop</text>
<path d="M510.3,483.2 H523 M533.4,483.2 H542.6" stroke="#000" stroke-width="3.9"/>
<text x="549" y="488.8" font-size="15.3" fill="#000">Prescribed ECAP</text>
<text x="549" y="507.8" font-size="15.3" fill="#000">Target Dose</text>
<text x="1.6" y="551.1" font-size="20" font-weight="bold" fill="#000">B</text>
<path d="M256.7,546 H279.5" stroke="#1560ab" stroke-width="2.1"/><rect x="264.7" y="542.6" width="6.8" height="6.8" fill="#1560ab"/>
<text x="287.6" y="549.9" font-size="10.8" fill="#262626">Open-Loop</text>
<path d="M354.7,546 H377.5" stroke="#ed7d31" stroke-width="2.1"/><path d="M366.1,542.4 l3.6,3.6 l-3.6,3.6 l-3.6,-3.6z" fill="#ed7d31"/>
<text x="386.3" y="549.9" font-size="10.8" fill="#262626">Closed-Loop</text>
<path d="M70.5,571 V915.2 M147.1,571 V915.2 M223.8,571 V915.2 M300.4,571 V915.2 M377.1,571 V915.2 M453.7,571 V915.2 M530.3,571 V915.2 M607.0,571 V915.2 M683.6,571 V915.2 " stroke="#dddddd" stroke-width="1.1" fill="none"/>
<path d="M70.5,829.4 H684" stroke="#dddddd" stroke-width="1.1" fill="none"/>
<text x="59.4" y="575.8" font-size="13" fill="#707070" text-anchor="end">300%</text>
<text x="59.4" y="618.9" font-size="13" fill="#707070" text-anchor="end">250%</text>
<text x="59.4" y="661.9" font-size="13" fill="#707070" text-anchor="end">200%</text>
<text x="59.4" y="705.0" font-size="13" fill="#707070" text-anchor="end">150%</text>
<text x="59.4" y="748.0" font-size="13" fill="#707070" text-anchor="end">100%</text>
<text x="59.4" y="791.1" font-size="13" fill="#707070" text-anchor="end">50%</text>
<text x="59.4" y="834.1" font-size="13" fill="#707070" text-anchor="end">0%</text>
<text x="59.4" y="877.1" font-size="13" fill="#707070" text-anchor="end">-50%</text>
<text x="59.4" y="920.2" font-size="13" fill="#707070" text-anchor="end">-100%</text>
<text transform="translate(13.7,730) rotate(-90)" font-size="13" fill="#707070" text-anchor="middle">ECAP amplitude variation (%)</text>
<text x="367.2" y="895.3" font-size="13" fill="#707070" text-anchor="middle">Type of Posture</text>
<text x="108.7" y="845.8" font-size="10.6" fill="#222" text-anchor="middle" letter-spacing="1.45">Sitting</text>
<text x="185.4" y="845.8" font-size="10.6" fill="#222" text-anchor="middle" letter-spacing="1.45">Head Up</text>
<text x="262.0" y="845.8" font-size="10.6" fill="#222" text-anchor="middle" letter-spacing="1.45">Head Down</text>
<text x="338.6" y="845.8" font-size="10.6" fill="#222" text-anchor="middle" letter-spacing="1.45">Arms in</text>
<text x="338.6" y="858.8" font-size="10.6" fill="#222" text-anchor="middle" letter-spacing="1.45">Front</text>
<text x="415.3" y="845.8" font-size="10.6" fill="#222" text-anchor="middle" letter-spacing="1.45">Arms above</text>
<text x="415.3" y="858.8" font-size="10.6" fill="#222" text-anchor="middle" letter-spacing="1.45">head</text>
<text x="491.9" y="845.8" font-size="10.6" fill="#222" text-anchor="middle" letter-spacing="1.45">Stand</text>
<text x="568.6" y="845.8" font-size="10.6" fill="#222" text-anchor="middle" letter-spacing="1.45">Walking</text>
<text x="645.2" y="845.8" font-size="10.6" fill="#222" text-anchor="middle" letter-spacing="1.45">Cough</text>
<path d="M108.8,829.4 L185.5,860.4 L262.1,643.4 L338.7,739.0 L415.4,779.5 L492.0,813.9 L568.7,665.8 L645.3,587.5" fill="none" stroke="#1560ab" stroke-width="2.1" stroke-linejoin="round"/>
<rect x="105.3" y="825.9" width="7" height="7" fill="#1560ab"/>
<rect x="182.0" y="856.9" width="7" height="7" fill="#1560ab"/>
<rect x="258.6" y="639.9" width="7" height="7" fill="#1560ab"/>
<rect x="335.2" y="735.5" width="7" height="7" fill="#1560ab"/>
<rect x="411.9" y="776.0" width="7" height="7" fill="#1560ab"/>
<rect x="488.5" y="810.4" width="7" height="7" fill="#1560ab"/>
<rect x="565.2" y="662.3" width="7" height="7" fill="#1560ab"/>
<rect x="641.8" y="584.0" width="7" height="7" fill="#1560ab"/>
<path d="M108.8,829.4 L185.5,830.3 L262.1,830.3 L338.7,830.3 L415.4,830.3 L492.0,829.4 L568.7,822.5 L645.3,822.5" fill="none" stroke="#ed7d31" stroke-width="2.1" stroke-linejoin="round"/>
<path d="M108.8,826.0 l3.4,3.4 l-3.4,3.4 l-3.4,-3.4z" fill="#ed7d31"/>
<path d="M185.5,826.9 l3.4,3.4 l-3.4,3.4 l-3.4,-3.4z" fill="#ed7d31"/>
<path d="M262.1,826.9 l3.4,3.4 l-3.4,3.4 l-3.4,-3.4z" fill="#ed7d31"/>
<path d="M338.7,826.9 l3.4,3.4 l-3.4,3.4 l-3.4,-3.4z" fill="#ed7d31"/>
<path d="M415.4,826.9 l3.4,3.4 l-3.4,3.4 l-3.4,-3.4z" fill="#ed7d31"/>
<path d="M492.0,826.0 l3.4,3.4 l-3.4,3.4 l-3.4,-3.4z" fill="#ed7d31"/>
<path d="M568.7,819.1 l3.4,3.4 l-3.4,3.4 l-3.4,-3.4z" fill="#ed7d31"/>
<path d="M645.3,819.1 l3.4,3.4 l-3.4,3.4 l-3.4,-3.4z" fill="#ed7d31"/>
<path d="M341,737.6 L346.8,733.8" stroke="#bdbdbd" stroke-width="0.8"/>
<text x="189.2" y="877.8" font-size="13" fill="#1a1a1a" text-anchor="middle">-36%</text>
<text x="261.8" y="632.7" font-size="13" fill="#1a1a1a" text-anchor="middle">216%</text>
<text x="347.6" y="728.8" font-size="13" fill="#1a1a1a" text-anchor="middle">105%</text>
<text x="415.1" y="768.8" font-size="13" fill="#1a1a1a" text-anchor="middle">58%</text>
<text x="492.6" y="802.6" font-size="13" fill="#1a1a1a" text-anchor="middle">18%</text>
<text x="568.4" y="655.1" font-size="13" fill="#1a1a1a" text-anchor="middle">190%</text>
<text x="645.0" y="576.8" font-size="13" fill="#1a1a1a" text-anchor="middle">281%</text>
<text x="108.8" y="817.8" font-size="13" fill="#1a1a1a" text-anchor="middle">0%</text>
<text x="185.5" y="818.9" font-size="13" fill="#1a1a1a" text-anchor="middle">-1%</text>
<text x="262.1" y="818.9" font-size="13" fill="#1a1a1a" text-anchor="middle">-1%</text>
<text x="338.7" y="818.9" font-size="13" fill="#1a1a1a" text-anchor="middle">-1%</text>
<text x="415.4" y="818.9" font-size="13" fill="#1a1a1a" text-anchor="middle">-1%</text>
<text x="493.8" y="826.6" font-size="13" fill="#1a1a1a" text-anchor="middle">0%</text>
<text x="568.7" y="811.2" font-size="13" fill="#1a1a1a" text-anchor="middle">8%</text>
<text x="645.3" y="811.2" font-size="13" fill="#1a1a1a" text-anchor="middle">8%</text>
</svg></body></html>
